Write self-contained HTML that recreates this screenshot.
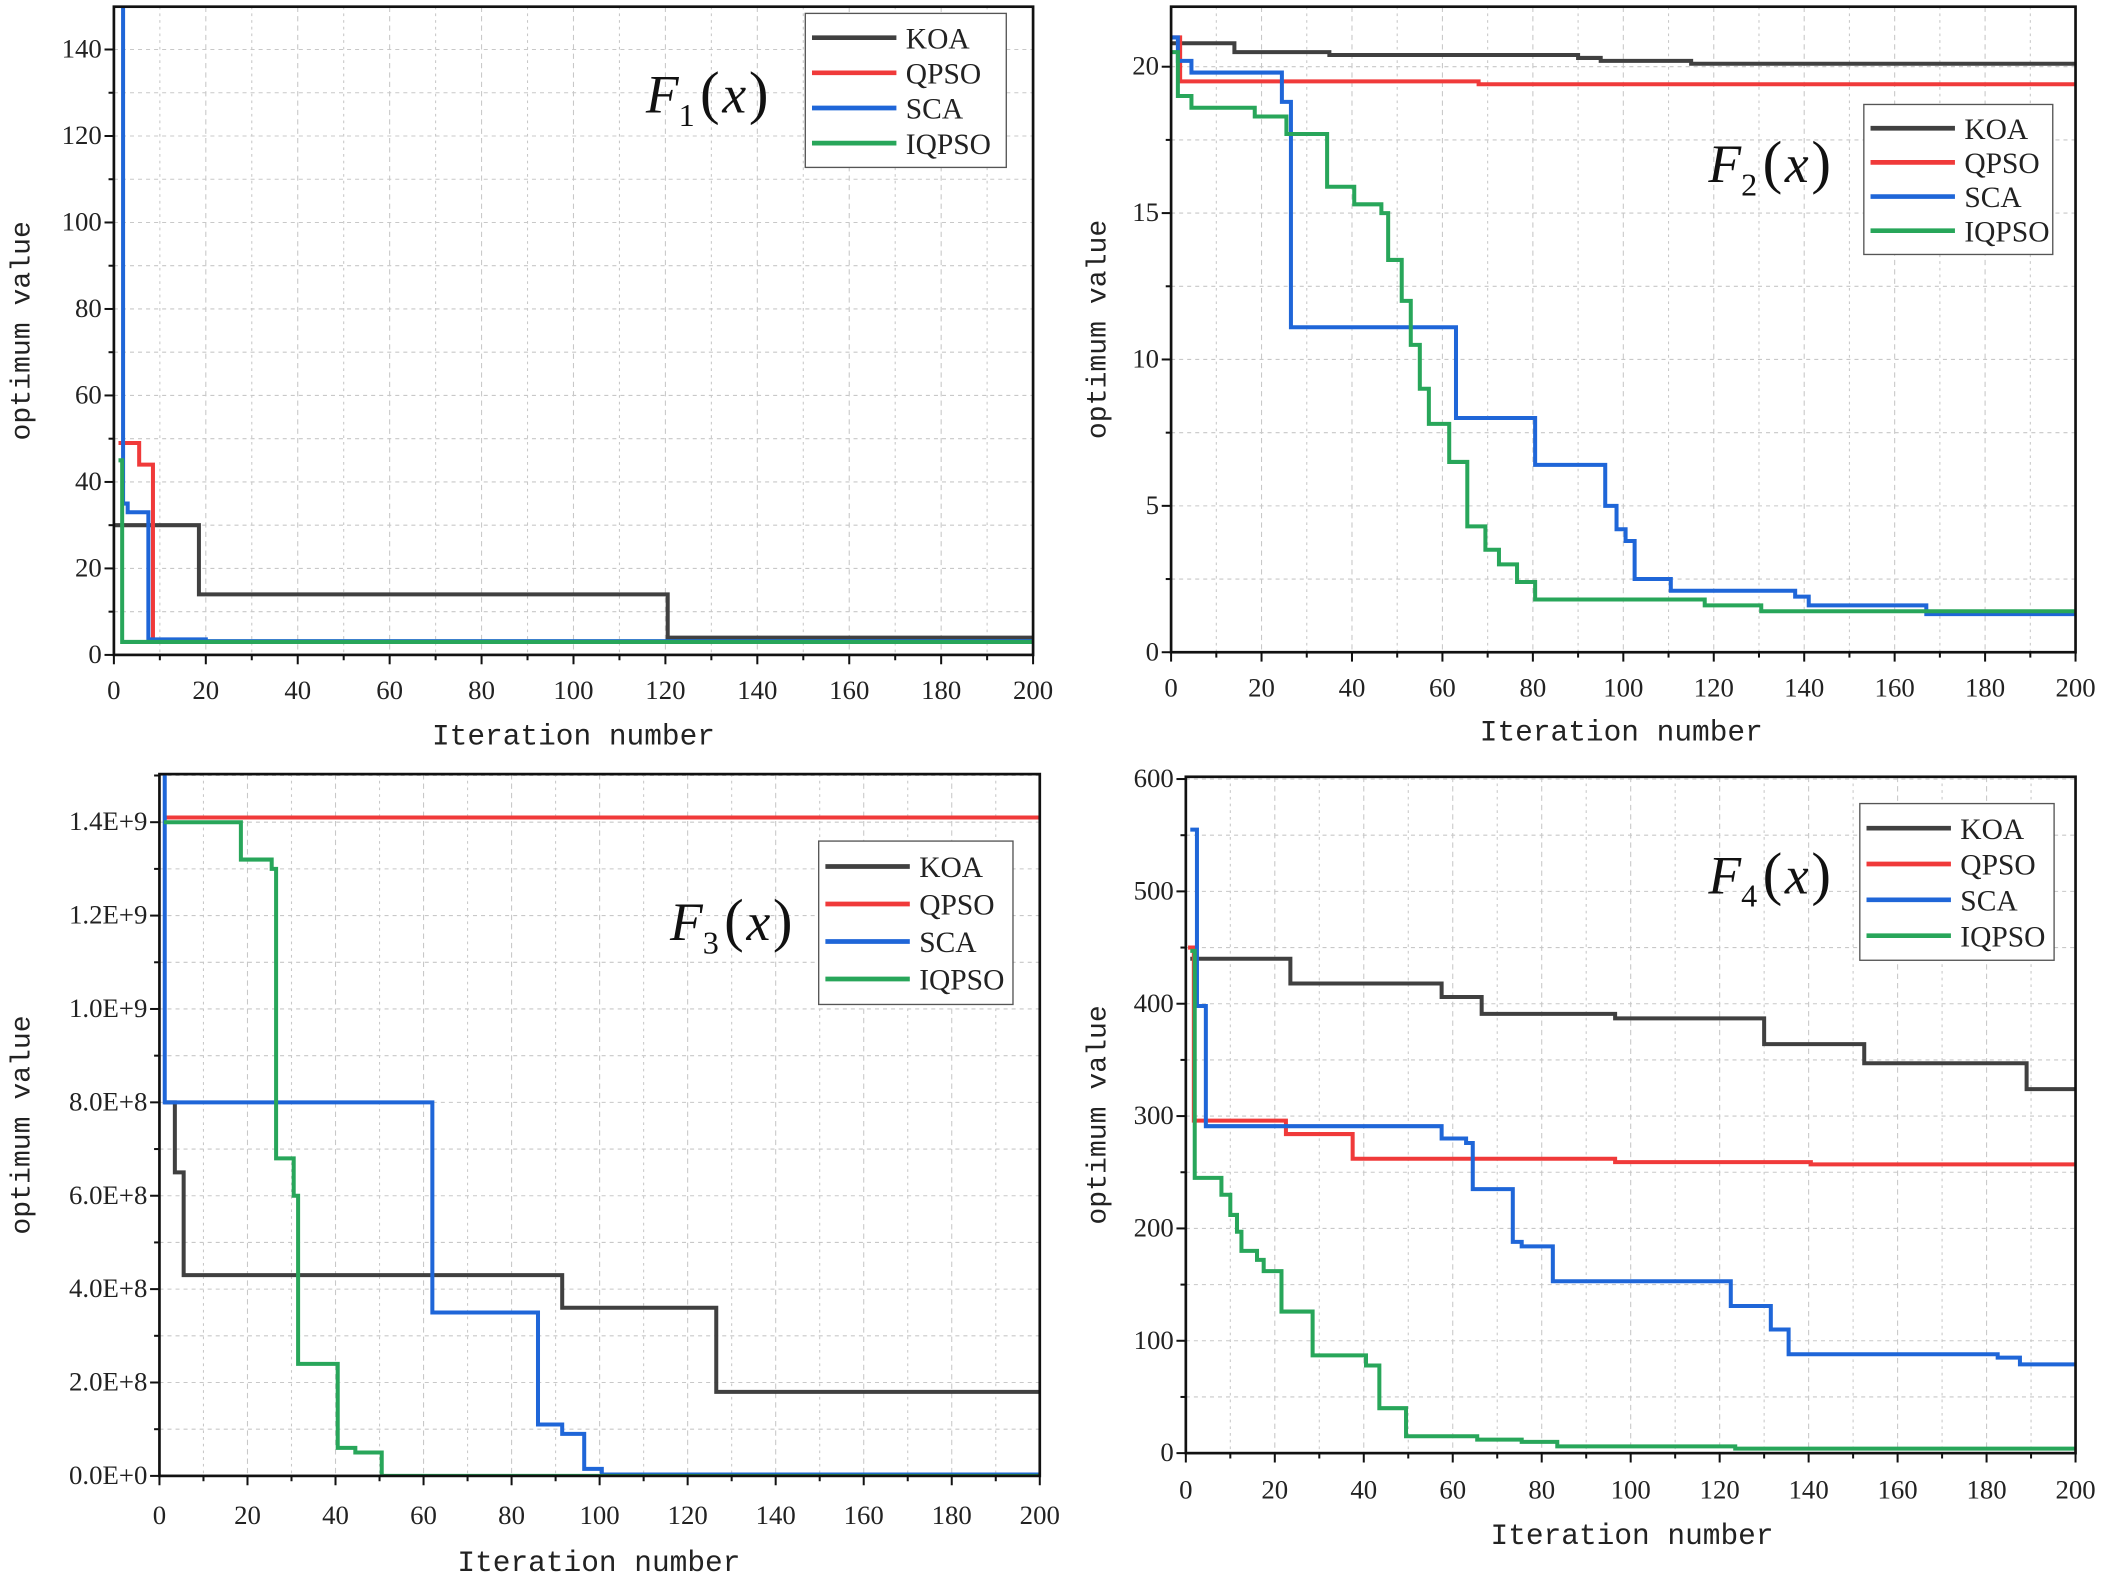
<!DOCTYPE html>
<html><head><meta charset="utf-8"><style>
html,body{margin:0;padding:0;background:#fff;}
svg{display:block;}
</style></head><body>
<svg id="s" width="2101" height="1575" viewBox="0 0 1568 1176" preserveAspectRatio="none" xmlns="http://www.w3.org/2000/svg"></svg>
<script>
const S=document.getElementById('s');
let out='';
const C={KOA:'#404040',QPSO:'#f03a3a',SCA:'#1f66d8',IQPSO:'#28a65a'};
function panel(p){
  const {x0,x1,yt,yb,ymin,ymax,yticks,yfmt,series,leg,fl,sub,xlabY,ylabX,tickLY,xlabCx}=p;
  const X=v=>x0+(x1-x0)*v/200, Y=v=>yb-(yb-yt)*(v-ymin)/(ymax-ymin);
  for(let i=10;i<200;i+=10){const x=X(i);out+=`<line x1="${x}" y1="${yt}" x2="${x}" y2="${yb}" stroke="#c8c8c8" stroke-width="0.8" stroke-dasharray="${i%20?'2,3':'4,3'}"/>`;}
  const st=yticks[1]-yticks[0];
  for(let v=yticks[0];v<=ymax;v+=st/2){const y=Y(v);if(y<yt+1||y>yb-1)continue;out+=`<line x1="${x0}" y1="${y}" x2="${x1}" y2="${y}" stroke="#c8c8c8" stroke-width="0.8" stroke-dasharray="3,3"/>`;}
  out+=`<svg x="${x0}" y="${yt}" width="${x1-x0}" height="${yb-yt}" overflow="hidden"><g transform="translate(${-x0},${-yt})">`;
  for(const [n,pts] of series){
    let d=`M${X(pts[0][0])},${Y(pts[0][1])}`;
    for(let i=1;i<pts.length;i++){d+=`H${X(pts[i][0])}V${Y(pts[i][1])}`;}
    d+=`H${X(200)}`;
    out+=`<path d="${d}" fill="none" stroke="${C[n]}" stroke-width="3"/>`;
  }
  out+=`</g></svg>`;
  out+=`<rect x="${x0}" y="${yt}" width="${x1-x0}" height="${yb-yt}" fill="none" stroke="#111" stroke-width="2"/>`;
  for(let i=0;i<=200;i+=10){const x=X(i);out+=`<line x1="${x}" y1="${yb}" x2="${x}" y2="${yb+(i%20?4:7)}" stroke="#111" stroke-width="1.5"/>`;
    if(i%20==0)out+=`<text x="${x}" y="${tickLY}" font-family="Liberation Serif,serif" font-size="20" text-anchor="middle" fill="#222">${i}</text>`;}
  for(let v=yticks[0];v<=ymax+1e-9;v+=st/2){const y=Y(v);const maj=Math.abs(Math.round((v-yticks[0])/st)*st-(v-yticks[0]))<1e-9;
    out+=`<line x1="${x0}" y1="${y}" x2="${x0-(maj?7:4)}" y2="${y}" stroke="#111" stroke-width="1.5"/>`;
    if(maj)out+=`<text x="${x0-9}" y="${y+6}" font-family="Liberation Serif,serif" font-size="20" text-anchor="end" fill="#222">${yfmt(v)}</text>`;}
  out+=`<text x="${xlabCx}" y="${xlabY}" font-family="Liberation Mono,monospace" font-size="22" text-anchor="middle" fill="#222">Iteration number</text>`;
  out+=`<text transform="translate(${ylabX},${(yt+yb)/2}) rotate(-90)" font-family="Liberation Mono,monospace" font-size="21" text-anchor="middle" fill="#222">optimum value</text>`;
  const [lx,ly,lw,lh]=leg;
  out+=`<rect x="${lx}" y="${ly}" width="${lw}" height="${lh}" fill="#fff" stroke="#555" stroke-width="1"/>`;
  const names=['KOA','QPSO','SCA','IQPSO'];const rh=(lh-10)/4;
  names.forEach((n,i)=>{const y=ly+5+rh*(i+0.5);out+=`<line x1="${lx+5}" y1="${y}" x2="${lx+68}" y2="${y}" stroke="${C[n]}" stroke-width="3.5"/><text x="${lx+75}" y="${y+8}" font-family="Liberation Serif,serif" font-size="22" fill="#222">${n}</text>`;});
  const [fx,fy]=fl;
  out+=`<text x="${fx}" y="${fy}" font-family="Liberation Serif,serif" font-size="40" font-style="italic" fill="#111">F<tspan font-style="normal" font-size="24" dy="10">${sub}</tspan><tspan font-style="normal" font-size="44" dy="-10" dx="4">(</tspan><tspan dx="2">x</tspan><tspan font-style="normal" font-size="44" dx="2">)</tspan></text>`;
}
panel({x0:85,x1:771,yt:5,yb:489,ymin:0,ymax:149.9,yticks:[0,20],yfmt:v=>v,leg:[601,10,150,115],fl:[482,84],sub:'1',tickLY:522,xlabY:556,xlabCx:428,ylabX:22,
series:[['KOA',[[0,30],[18.5,14],[120.5,4]]],['QPSO',[[1,49],[5.5,44],[8.5,3]]],['SCA',[[1.7,200],[2,35],[3,33],[7.5,3.6],[20,3.2]]],['IQPSO',[[1,45],[1.8,3]]]]});
panel({x0:874,x1:1549,yt:5,yb:487,ymin:0,ymax:22.05,yticks:[0,5],yfmt:v=>v,leg:[1391,78,141,112],fl:[1275,136],sub:'2',tickLY:520,xlabY:553,xlabCx:1210,ylabX:825,
series:[['KOA',[[0,20.8],[14,20.5],[35,20.4],[90,20.3],[95,20.2],[115,20.1]]],['QPSO',[[0,21],[2,19.5],[68,19.4]]],['SCA',[[0,21],[1.5,20.2],[4.5,19.8],[24.5,18.8],[26.5,11.1],[63,8],[80.5,6.4],[96,5],[98.5,4.2],[100.5,3.8],[102.5,2.5],[110.5,2.1],[138,1.9],[141,1.6],[167,1.3]]],
['IQPSO',[[0,20.5],[1.5,19],[4.5,18.6],[18.5,18.3],[25.5,17.7],[34.5,15.9],[40.5,15.3],[46.5,15],[48,13.4],[51,12],[53,10.5],[55,9],[57,7.8],[61.5,6.5],[65.5,4.3],[69.5,3.5],[72.5,3],[76.5,2.4],[80.5,1.8],[118,1.6],[130.5,1.4]]]]});
panel({x0:119,x1:776,yt:578,yb:1102,ymin:0,ymax:15.03,yticks:[0,2],yfmt:v=>v==0?'0.0E+0':(v>=10?(v/10).toFixed(1)+'E+9':v.toFixed(1)+'E+8'),leg:[611,628,145,122],fl:[500,702],sub:'3',tickLY:1138,xlabY:1173,xlabCx:447,ylabX:22,
series:[['KOA',[[1,8],[3.5,6.5],[5.5,4.3],[91.5,3.6],[126.5,1.8]]],['QPSO',[[1,14.1]]],['SCA',[[0.6,16],[1.2,8],[62,3.5],[86,1.1],[91.5,0.9],[96.5,0.15],[100.5,0.03]]],['IQPSO',[[1,14],[18.5,13.2],[25.5,13],[26.5,6.8],[30.5,6],[31.5,2.4],[40.5,0.6],[44.5,0.5],[50.5,0]]]]});
panel({x0:885,x1:1549,yt:580,yb:1085,ymin:0,ymax:602,yticks:[0,100],yfmt:v=>v,leg:[1388,600,145,117],fl:[1275,667],sub:'4',tickLY:1119,xlabY:1153,xlabCx:1218,ylabX:825,
series:[['KOA',[[1,440],[23.5,418],[57.5,406],[66.5,391],[96.5,387],[130,364],[152.5,347],[189,324]]],['QPSO',[[0.5,450],[1.8,296],[22.5,284],[37.5,262],[96.5,259],[140.5,257]]],
['SCA',[[1,555],[2.5,398],[4.5,291],[57.5,280],[63,276],[64.5,235],[73.5,188],[75.5,184],[82.5,153],[122.5,131],[131.5,110],[135.5,88],[182.5,85],[187.5,79]]],
['IQPSO',[[1,447],[2,245],[8,230],[10,212],[11.5,197],[12.5,180],[16,172],[17.5,162],[21.5,126],[28.5,87],[40.5,78],[43.5,40],[49.5,15],[65.5,12],[75.5,10],[83.5,6],[123.5,4]]]]});
S.innerHTML=out;
</script>
</body></html>
